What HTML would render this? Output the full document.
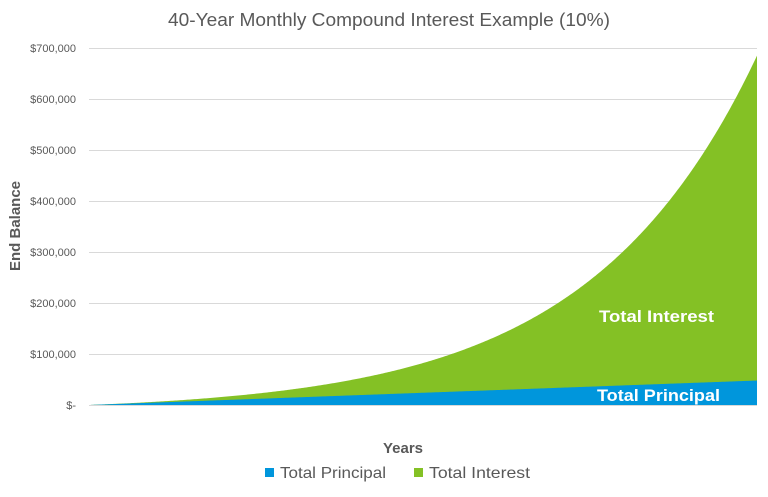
<!DOCTYPE html>
<html><head><meta charset="utf-8"><style>
body{margin:0;background:#fff;width:768px;height:492px;overflow:hidden;font-family:"Liberation Sans",sans-serif}
</style></head><body>
<svg id="s" width="768" height="492" xmlns="http://www.w3.org/2000/svg" font-family="Liberation Sans, sans-serif">
<text x="168" y="26" textLength="442" lengthAdjust="spacingAndGlyphs" font-size="18" fill="#595959">40-Year Monthly Compound Interest Example (10%)</text>
<g stroke="#d9d9d9" stroke-width="1">
<line x1="89" x2="757" y1="48.5" y2="48.5"/><line x1="89" x2="757" y1="99.5" y2="99.5"/>
<line x1="89" x2="757" y1="150.5" y2="150.5"/><line x1="89" x2="757" y1="201.5" y2="201.5"/>
<line x1="89" x2="757" y1="252.5" y2="252.5"/><line x1="89" x2="757" y1="303.5" y2="303.5"/>
<line x1="89" x2="757" y1="354.5" y2="354.5"/><line x1="89" x2="757" y1="405.5" y2="405.5"/>
</g>
<g font-size="11" fill="#595959" text-anchor="end">
<text x="76" y="52">$700,000</text><text x="76" y="103">$600,000</text>
<text x="76" y="154">$500,000</text><text x="76" y="205">$400,000</text>
<text x="76" y="256">$300,000</text><text x="76" y="307">$200,000</text>
<text x="76" y="358">$100,000</text><text x="76" y="409">$-</text>
</g>
<text transform="translate(20,226) rotate(-90)" text-anchor="middle" font-size="15" font-weight="bold" fill="#595959">End Balance</text>
<path id="g" fill="#84c125"/>
<path id="b" fill="#0096dc"/>
<text x="599" y="322" textLength="115" lengthAdjust="spacingAndGlyphs" font-size="17" font-weight="bold" fill="#fff">Total Interest</text>
<text x="597" y="401" textLength="123" lengthAdjust="spacingAndGlyphs" font-size="17" font-weight="bold" fill="#fff">Total Principal</text>
<text x="383" y="453" textLength="40" lengthAdjust="spacingAndGlyphs" font-size="15" font-weight="bold" fill="#595959">Years</text>
<rect x="265" y="468" width="9" height="9" fill="#0096dc"/>
<text x="280" y="478" textLength="106" lengthAdjust="spacingAndGlyphs" font-size="16" fill="#595959">Total Principal</text>
<rect x="414" y="468" width="9" height="9" fill="#84c125"/>
<text x="429" y="478" textLength="101" lengthAdjust="spacingAndGlyphs" font-size="16" fill="#595959">Total Interest</text>
</svg>
<script>
var x0=89,x1=757,base=405,k=0.51/1000;
var r=0.1/12,fe=Math.pow(1+r,480)-1;
var g="M"+x0+" "+base,b="M"+x0+" "+base;
for(var m=0;m<=480;m++){
 var x=x0+(x1-x0)*m/480;
 var tot=685000*(Math.pow(1+r,m)-1)/fe;
 var p=48000*m/480; if(p>tot)p=tot;
 g+=" L"+x.toFixed(2)+" "+(base-tot*k).toFixed(2);
 b+=" L"+x.toFixed(2)+" "+(base-p*k).toFixed(2);
}
g+=" L"+x1+" "+base+"Z"; b+=" L"+x1+" "+base+"Z";
document.getElementById("g").setAttribute("d",g);
document.getElementById("b").setAttribute("d",b);
</script>
</body></html>
